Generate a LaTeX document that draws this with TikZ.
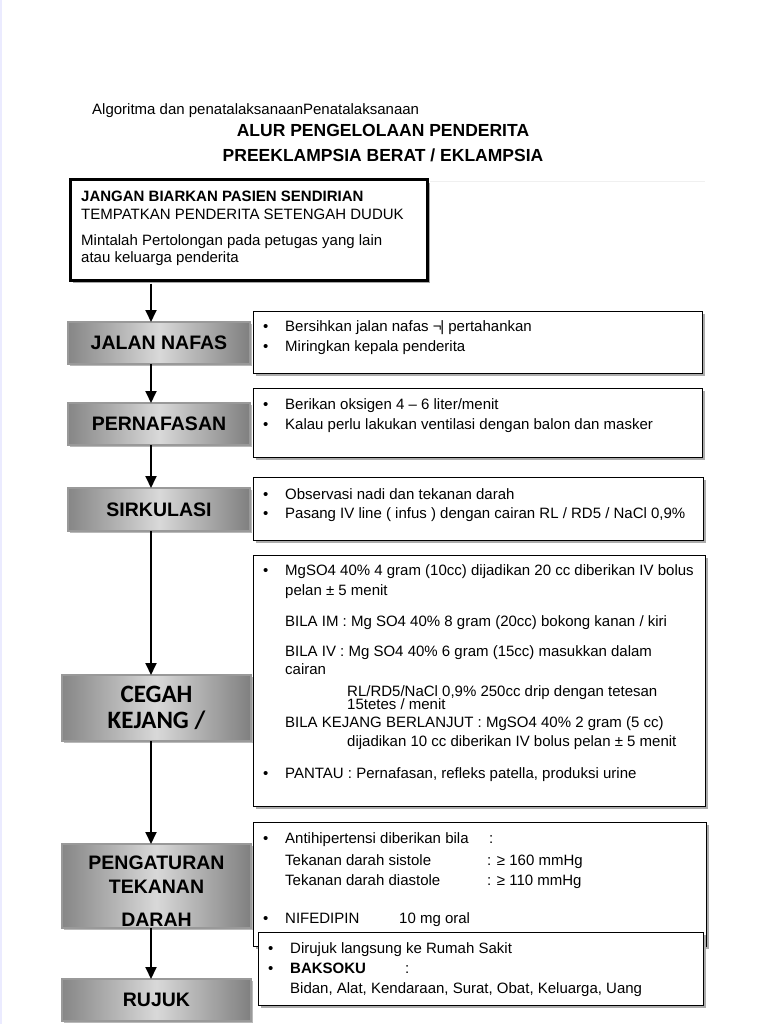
\documentclass[tikz,border=0pt]{standalone}
\usepackage{fontspec}
\setmainfont{Liberation Sans}
\newfontfamily\carlito{Carlito}
\usetikzlibrary{shadows,arrows.meta}
\begin{document}
\begin{tikzpicture}[x=1pt,y=-1pt,
  txt/.style={anchor=base west,inner sep=0pt,font=\fontsize{15}{18}\selectfont},
  grbox/.style={draw=gray!80,line width=1.2pt,left color=gray!95,right color=gray!100,middle color=gray!30,
    inner sep=0pt,outer sep=0pt,font=\bfseries\fontsize{19.5}{24}\selectfont,align=center,
    drop shadow={shadow xshift=1.5pt,shadow yshift=-1.5pt,fill=gray!55,opacity=1}},
  wbox/.style={draw=black,line width=1pt,fill=white,inner sep=0pt,outer sep=0pt,
    drop shadow={shadow xshift=3pt,shadow yshift=-3pt,fill=gray!65,opacity=1}},
  arr/.style={line width=1.8pt,-{Triangle[width=11pt,length=12pt]}}]
\useasboundingbox[fill=white] (0,0) rectangle (768,1024);
\draw[blue!8,line width=1.2pt] (1,0) -- (1,1024);
\draw[gray!12,line width=0.8pt] (430,181) -- (705,181);
\coordinate (ax) at (151,0);

% header
\node[txt] (hdr) at (92,115) {Algoritma dan penatalaksanaanPenatalaksanaan};
\node[anchor=base,inner sep=0pt,font=\bfseries\fontsize{17.5}{20}\selectfont] (tt1) at (383,137) {ALUR PENGELOLAAN PENDERITA};
\node[anchor=base,inner sep=0pt,font=\bfseries\fontsize{17.5}{20}\selectfont] (tt2) at (383,162) {PREEKLAMPSIA BERAT / EKLAMPSIA};

% box 1
\node[draw=black,line width=3pt,fill=white,minimum width=357pt,minimum height=100pt,inner sep=0pt,
  drop shadow={shadow xshift=3pt,shadow yshift=-3pt,fill=gray!70,opacity=1}] (b1) at (248.5,230) {};
\node[txt,font=\bfseries\fontsize{15}{18}\selectfont] (b1a) at (81,202) {JANGAN BIARKAN PASIEN SENDIRIAN};
\node[txt] (b1b) at (81,219) {TEMPATKAN PENDERITA SETENGAH DUDUK};
\node[txt] (b1c) at (81,245) {Mintalah Pertolongan pada petugas yang lain};
\node[txt] (b1d) at (81,262) {atau keluarga penderita};

% left boxes
\node[grbox,minimum width=182pt,minimum height=42pt] (jn) at (159,343) {JALAN NAFAS};
\node[grbox,minimum width=182pt,minimum height=42pt] (pn) at (159,424) {PERNAFASAN};
\node[grbox,minimum width=182pt,minimum height=43pt] (sk) at (159,509.5) {SIRKULASI};
\node[grbox,minimum width=189pt,minimum height=66pt,font=\carlito\bfseries\fontsize{25}{26}\selectfont] (ck) at (156.5,708) {CEGAH\\KEJANG /};
\node[grbox,minimum width=189pt,minimum height=84pt] (pt) at (156.5,886) {};
\node[anchor=center,inner sep=0pt,align=center,font=\bfseries\fontsize{19.5}{24}\selectfont] (ptl) at (156.5,891) {PENGATURAN\\TEKANAN\\[9pt]DARAH};
\node[grbox,minimum width=189pt,minimum height=42pt] (rj) at (156.5,1000) {RUJUK};

% arrows
\draw[arr] (b1.south -| ax) ++(0,2) -- (jn.north -| ax);
\draw[arr] (jn.south -| ax) -- (pn.north -| ax);
\draw[arr] (pn.south -| ax) -- (sk.north -| ax);
\draw[arr] (sk.south -| ax) -- (ck.north -| ax);
\draw[arr] (ck.south -| ax) -- (pt.north -| ax);
\draw[arr] (pt.south -| ax) -- (rj.north -| ax);

% right box 1
\node[wbox,minimum width=449pt,minimum height=62pt] (r1) at (477.5,342) {};
\node[txt] (r1b1) at (263,331) {•};
\node[txt] (r1t1) at (285,331) {Bersihkan jalan nafas ¬\kern-1.2pt| pertahankan};
\node[txt] (r1b2) at (263,351) {•};
\node[txt] (r1t2) at (285,351) {Miringkan kepala penderita};

% right box 2
\node[wbox,minimum width=449pt,minimum height=69pt] (r2) at (477.5,422.5) {};
\node[txt] (r2b1) at (263,409) {•};
\node[txt] (r2t1) at (285,409) {Berikan oksigen 4 – 6 liter/menit};
\node[txt] (r2b2) at (263,429) {•};
\node[txt] (r2t2) at (285,429) {Kalau perlu lakukan ventilasi dengan balon dan masker};

% right box 3
\node[wbox,minimum width=450pt,minimum height=63pt] (r3) at (478,508.5) {};
\node[txt] (r3b1) at (263,499) {•};
\node[txt] (r3t1) at (285,499) {Observasi nadi dan tekanan darah};
\node[txt] (r3b2) at (263,518) {•};
\node[txt] (r3t2) at (285,518) {Pasang IV line ( infus ) dengan cairan RL / RD5 / NaCl 0,9\%};

% right box 4
\node[wbox,minimum width=452pt,minimum height=251pt] (r4) at (479,680.5) {};
\node[txt] (r4b1) at (263,575) {•};
\node[txt] (r4t1) at (285,575) {MgSO4 40\% 4 gram (10cc) dijadikan 20 cc diberikan IV bolus};
\node[txt] (r4t2) at (285,595) {pelan ± 5 menit};
\node[txt] (r4t3) at (285,626) {BILA IM : Mg SO4 40\% 8 gram (20cc) bokong kanan / kiri};
\node[txt] (r4t4) at (285,656) {BILA IV : Mg SO4 40\% 6 gram (15cc) masukkan dalam};
\node[txt] (r4t5) at (285,674) {cairan};
\node[txt] (r4t6) at (347,696) {RL/RD5/NaCl 0,9\% 250cc drip dengan tetesan};
\node[txt] (r4t7) at (347,709) {15tetes / menit};
\node[txt] (r4t8) at (285,727) {BILA KEJANG BERLANJUT : MgSO4 40\% 2 gram (5 cc)};
\node[txt] (r4t9) at (347,746) {dijadikan 10 cc diberikan IV bolus pelan ± 5 menit};
\node[txt] (r4b2) at (263,778) {•};
\node[txt] (r4t10) at (285,778) {PANTAU : Pernafasan, refleks patella, produksi urine};

% right box 5
\node[wbox,minimum width=453pt,minimum height=124pt] (r5) at (479.5,884) {};
\node[txt] (r5b1) at (263,843) {•};
\node[txt] (r5t1) at (285,843) {Antihipertensi diberikan bila};
\node[txt] (r5c1) at (489,843) {:};
\node[txt] (r5t2) at (285,865) {Tekanan darah sistole};
\node[txt] (r5c2) at (487,865) {: ≥ 160 mmHg};
\node[txt] (r5t3) at (285,885) {Tekanan darah diastole};
\node[txt] (r5c3) at (487,885) {: ≥ 110 mmHg};
\node[txt] (r5b2) at (263,923) {•};
\node[txt] (r5t4) at (285,923) {NIFEDIPIN};
\node[txt] (r5t5) at (399,923) {10 mg oral};

% right box 6
\node[wbox,minimum width=445pt,minimum height=73pt] (r6) at (480.5,968.5) {};
\node[txt] (r6b1) at (268,953) {•};
\node[txt] (r6t1) at (290,953) {Dirujuk langsung ke Rumah Sakit};
\node[txt] (r6b2) at (268,973) {•};
\node[txt,font=\bfseries\fontsize{15}{18}\selectfont] (r6t2) at (290,973) {BAKSOKU};
\node[txt] (r6c2) at (405,973) {:};
\node[txt] (r6t3) at (290,993) {Bidan, Alat, Kendaraan, Surat, Obat, Keluarga, Uang};
\end{tikzpicture}
\end{document}
